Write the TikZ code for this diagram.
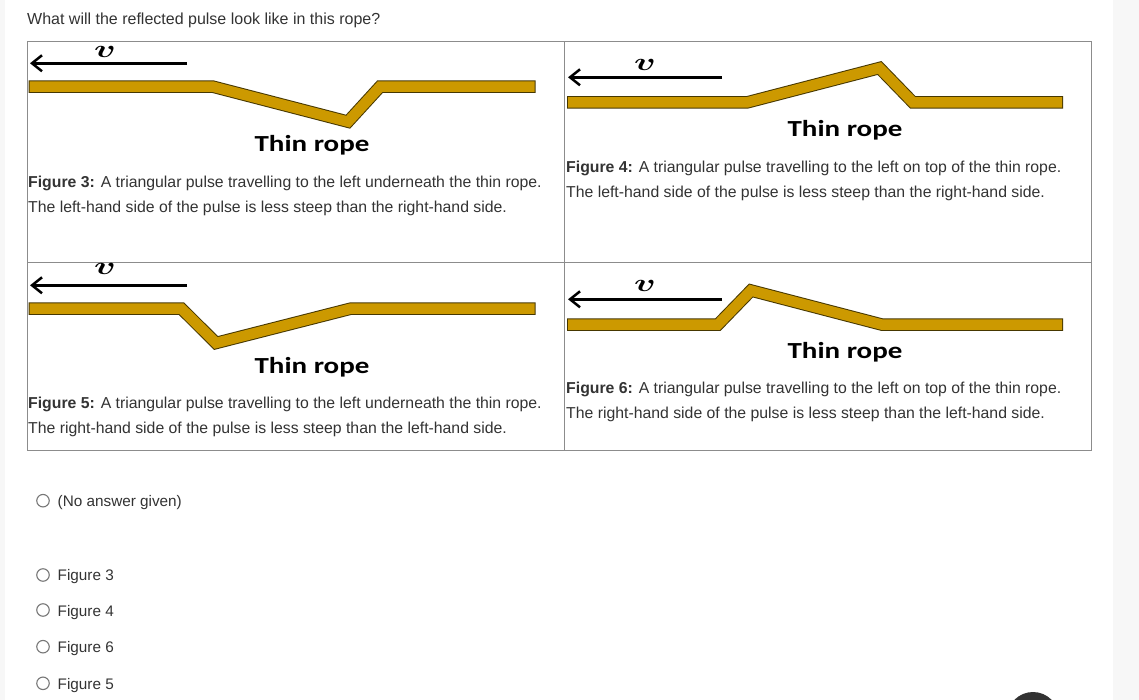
\documentclass[tikz,border=0pt]{standalone}
\usepackage{fontspec}
\setmainfont{Liberation Sans}
\newfontfamily\ropefont{Carlito}
\usepackage{bm}
\usepackage{graphicx}
\usetikzlibrary{arrows.meta}

\definecolor{ropegold}{HTML}{CC9900}
\definecolor{ropeedge}{HTML}{463700}
\definecolor{tableline}{HTML}{8C8C8C}
\definecolor{txt}{HTML}{333333}
\definecolor{sidebar}{HTML}{F7F7F7}
\definecolor{radioring}{HTML}{777777}
\definecolor{knob}{HTML}{333333}

\begin{document}
\begin{tikzpicture}[x=1pt, y=-1pt,
        ropeout/.style={draw=ropeedge, line width=12.5pt},
        ropein/.style={draw=ropegold, line width=10.5pt, shorten <=1pt, shorten >=1pt},
        vel/.style={draw=black, line width=2.5pt, -{Straight Barb[length=10pt, width=16pt]}},
        vlabel/.style={inner sep=0pt, font=\fontsize{24}{24}\selectfont},
        ropename/.style={inner sep=0pt, font=\ropefont\bfseries\fontsize{23}{23}\selectfont},
        figtext/.style={inner sep=0pt, anchor=base west, text=txt, font=\fontsize{15.8}{18}\selectfont},
        radio/.style={circle, draw=radioring, line width=1.1pt, minimum size=12.5pt, inner sep=0pt},
        choice/.style={inner sep=0pt, anchor=base west, text=txt, font=\fontsize{15.3}{18}\selectfont}]
    \useasboundingbox (0,0) rectangle (1139,700);
    \fill[white] (0,0) rectangle (1139,700);
    \fill[sidebar] (0,0) rectangle (5,700);
    \fill[sidebar] (1113,0) rectangle (1139,700);

    \node[inner sep=0pt, anchor=base west, text=txt, font=\fontsize{16}{19}\selectfont] (title) at (27,25)
        {What will the reflected pulse look like in this rope?};

    % table
    \draw[tableline, line width=1pt] (27,41.5) rectangle (1091.5,450.5);
    \draw[tableline, line width=1pt] (564,41.5) -- (564,450.5);
    \draw[tableline, line width=1pt] (27,262.5) -- (1091.5,262.5);

    % figure 3
    \coordinate (a3s) at (187,63.3);
    \coordinate (a3e) at (30,63.3);
    \draw[vel] (a3s) -- (a3e);
    \node[vlabel] (v3) at (105,52) {\scalebox{1.45}[1]{$\bm{v}$}};
    \draw[ropeout] (28.5,86.7) -- (213,86.7) -- (348,121.7) -- (380,86.7) -- (535.5,86.7);
    \draw[ropein] (28.5,86.7) -- (213,86.7) -- (348,121.7) -- (380,86.7) -- (535.5,86.7);
    \node[ropename] (rope3) at (312,145) {\scalebox{1.26}[1]{Thin rope}};
    \node[figtext] (cap3a) at (28,187.5) {\textbf{Figure 3:} A triangular pulse travelling to the left underneath the thin rope.};
    \node[figtext] (cap3b) at (28,212.5) {The left-hand side of the pulse is less steep than the right-hand side.};

    % figure 4
    \coordinate (a4s) at (722,77.3);
    \coordinate (a4e) at (568,77.3);
    \draw[vel] (a4s) -- (a4e);
    \node[vlabel] (v4) at (645,64.5) {\scalebox{1.45}[1]{$\bm{v}$}};
    \draw[ropeout] (567,102.5) -- (746.7,102.5) -- (879.5,68) -- (913,102.5) -- (1063,102.5);
    \draw[ropein] (567,102.5) -- (746.7,102.5) -- (879.5,68) -- (913,102.5) -- (1063,102.5);
    \node[ropename] (rope4) at (845,130.5) {\scalebox{1.26}[1]{Thin rope}};
    \node[figtext] (cap4a) at (566,172.5) {\textbf{Figure 4:} A triangular pulse travelling to the left on top of the thin rope.};
    \node[figtext] (cap4b) at (566,197.5) {The left-hand side of the pulse is less steep than the right-hand side.};

    % figure 5
    \coordinate (a5s) at (187,285.3);
    \coordinate (a5e) at (30,285.3);
    \draw[vel] (a5s) -- (a5e);
    \node[vlabel] (v5) at (105,268.5) {\scalebox{1.45}[1]{$\bm{v}$}};
    \draw[ropeout] (28.5,308.7) -- (181.5,308.7) -- (216,343) -- (350.5,308.7) -- (535.5,308.7);
    \draw[ropein] (28.5,308.7) -- (181.5,308.7) -- (216,343) -- (350.5,308.7) -- (535.5,308.7);
    \node[ropename] (rope5) at (312,367) {\scalebox{1.26}[1]{Thin rope}};
    \node[figtext] (cap5a) at (28,408.5) {\textbf{Figure 5:} A triangular pulse travelling to the left underneath the thin rope.};
    \node[figtext] (cap5b) at (28,433.5) {The right-hand side of the pulse is less steep than the left-hand side.};

    % figure 6
    \coordinate (a6s) at (722,299.3);
    \coordinate (a6e) at (568,299.3);
    \draw[vel] (a6s) -- (a6e);
    \node[vlabel] (v6) at (645,286) {\scalebox{1.45}[1]{$\bm{v}$}};
    \draw[ropeout] (567,324.5) -- (718,324.5) -- (751,290.5) -- (881.5,324.5) -- (1063,324.5);
    \draw[ropein] (567,324.5) -- (718,324.5) -- (751,290.5) -- (881.5,324.5) -- (1063,324.5);
    \node[ropename] (rope6) at (845,352.5) {\scalebox{1.26}[1]{Thin rope}};
    \node[figtext] (cap6a) at (566,393.5) {\textbf{Figure 6:} A triangular pulse travelling to the left on top of the thin rope.};
    \node[figtext] (cap6b) at (566,418.5) {The right-hand side of the pulse is less steep than the left-hand side.};

    % answers
    \node[radio] (r0) at (43,500.7) {};
    \node[choice] (c0) at (57.5,506) {(No answer given)};
    \node[radio] (r3) at (43,575) {};
    \node[choice] (c3) at (57.5,580) {Figure 3};
    \node[radio] (r4) at (43,610) {};
    \node[choice] (c4) at (57.5,616) {Figure 4};
    \node[radio] (r6) at (43,646.7) {};
    \node[choice] (c6) at (57.5,652.5) {Figure 6};
    \node[radio] (r5) at (43,683.3) {};
    \node[choice] (c5) at (57.5,689.3) {Figure 5};

    \fill[knob] (1033,718) circle (26);
\end{tikzpicture}
\end{document}
